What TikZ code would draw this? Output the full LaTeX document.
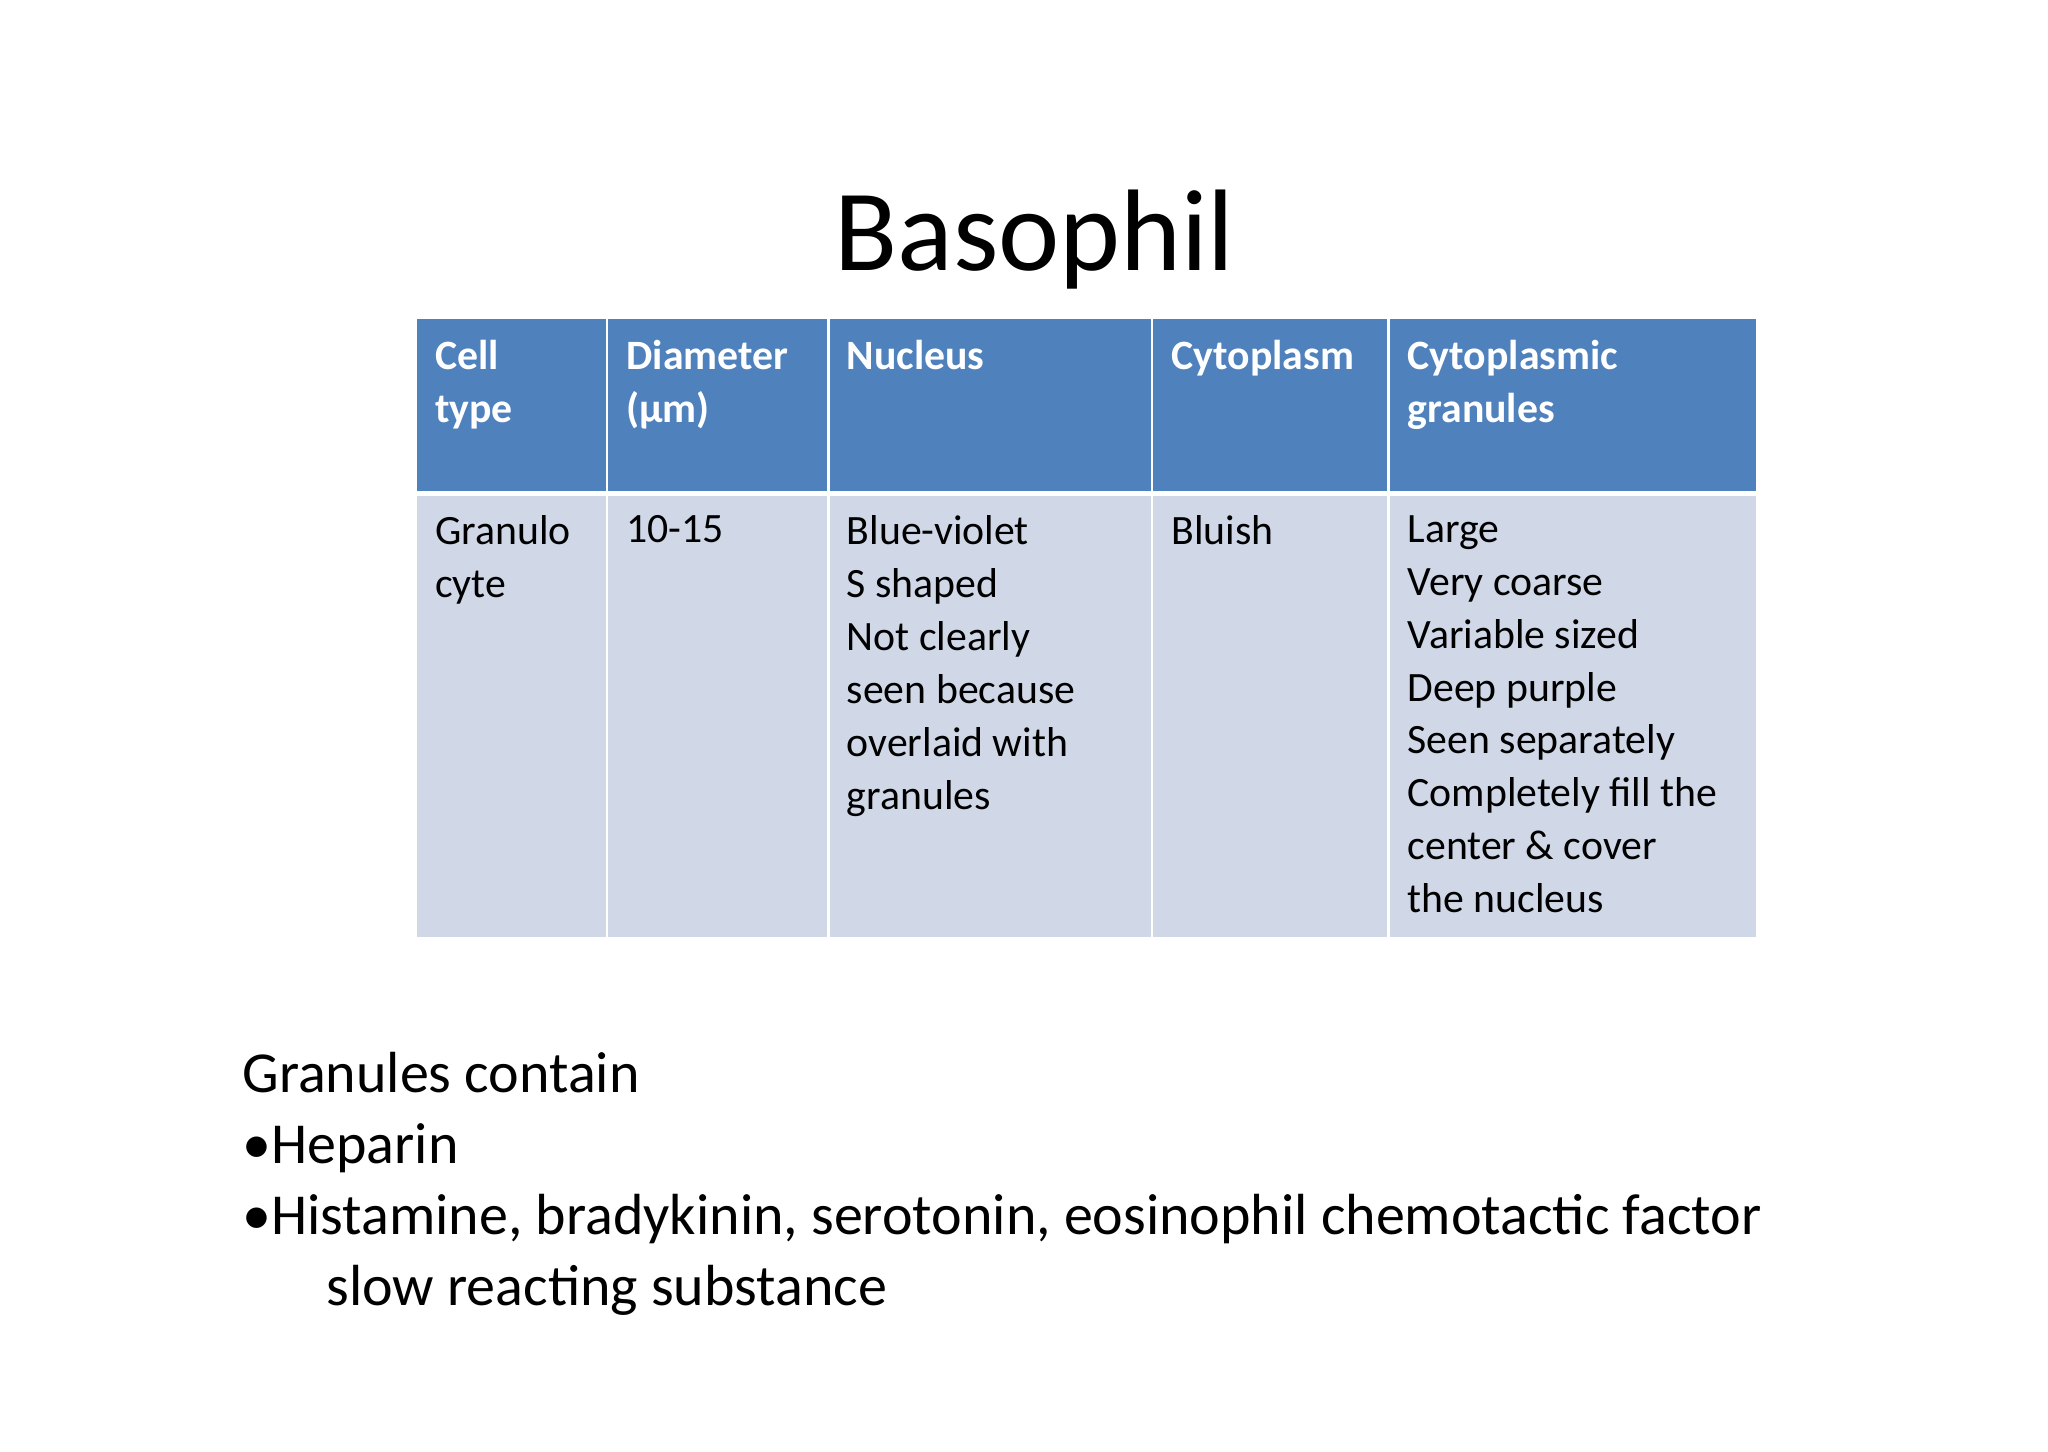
\documentclass[tikz,border=0pt]{standalone}
\usepackage{fontspec}
\setmainfont{Carlito}
\definecolor{headblue}{HTML}{4F81BD}
\definecolor{bodyblue}{HTML}{D0D8E8}
\tikzset{
  headcell/.style={anchor=north west,inner sep=0pt,align=left,text=white,
    font=\fontsize{9}{11.4}\selectfont\bfseries},
  bodycell/.style={anchor=north west,inner sep=0pt,align=left,text=black,
    font=\fontsize{9}{11.4}\selectfont},
}
\begin{document}
\begin{tikzpicture}[x=0.01cm,y=-0.01cm]
  \useasboundingbox (0,0) rectangle (1552,1100);
  \fill[white] (0,0) rectangle (1552,1100);

  \node[anchor=base,inner sep=0pt,font=\fontsize{25}{30}\selectfont] (title) at (784,205) {Basophil};

  % table background
  \foreach \xa/\xb in {316/459,461/627,629/872,874/1051,1053/1331}{
    \fill[headblue] (\xa,242) rectangle (\xb,372);
    \fill[bodyblue] (\xa,376) rectangle (\xb,710);
  }

  \node[headcell] (h1) at (329,257) {Cell\\type};
  \node[headcell] (h2) at (474,257) {Diameter\\(µm)};
  \node[headcell] (h3) at (641,257) {Nucleus};
  \node[headcell] (h4) at (887,257) {Cytoplasm};
  \node[headcell] (h5) at (1066,257) {Cytoplasmic\\granules};

  \node[bodycell] (b1) at (329,390) {Granulo\\cyte};
  \node[bodycell] (b2) at (474,390) {10-15};
  \node[bodycell] (b3) at (641,390) {Blue-violet\\S shaped\\Not clearly\\seen because\\overlaid with\\granules};
  \node[bodycell] (b4) at (887,390) {Bluish};
  \node[bodycell] (b5) at (1066,390) {Large\\Very coarse\\Variable sized\\Deep purple\\Seen separately\\Completely fill the\\center \& cover\\the nucleus};

  \node[anchor=north west,inner sep=0pt,align=left,
    font=\fontsize{12.5}{15.3}\selectfont] (notes) at (183,797)
    {Granules contain\\•Heparin\\•Histamine, bradykinin, serotonin, eosinophil chemotactic factor\\\hspace*{1.45em}slow reacting substance};
\end{tikzpicture}
\end{document}
